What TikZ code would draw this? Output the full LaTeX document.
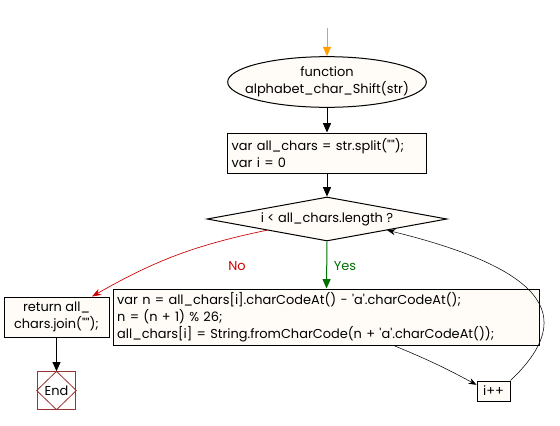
\documentclass[tikz,border=0pt]{standalone}
\usepackage{fontspec}
\setmainfont{Poppins}
\usetikzlibrary{shapes.geometric,arrows.meta}
\definecolor{boxfill}{HTML}{FFFCF8}
\definecolor{nocol}{HTML}{CC0000}
\definecolor{yescol}{HTML}{007000}
\definecolor{endcol}{HTML}{993333}
\definecolor{startcol}{HTML}{FFA000}
\newcommand{\sq}{\textquotesingle}
\newcommand{\dq}{\textquotedbl}

\begin{document}
\begin{tikzpicture}[x=0.75pt, y=-0.75pt,
  font=\fontsize{9.7}{12.75}\selectfont,
  box/.style={draw, fill=boxfill, line width=0.75pt, inner xsep=3pt, inner ysep=0pt},
  flow/.style={-{Triangle[length=7pt,width=6pt]}, line width=0.75pt},
  loopflow/.style={-{Stealth[length=6pt,width=4.5pt]}, line width=0.4pt}]
  \useasboundingbox (0,0) rectangle (560,425);

  % start and function header
  \coordinate (start) at (327,28);
  \node[box, ellipse, minimum width=149pt, minimum height=38pt, inner sep=0pt] (func) at (327,82) {};
  \node[align=center] (functext) at (327,82) {function\\alphabet\_char\_Shift(str)};

  % setup
  \node[box, text width=143pt, minimum height=30pt, align=left] (init) at (327,153)
    {var all\_chars = str.split(\dq\dq);\\var i = 0};

  % loop test
  \node[box, diamond, aspect=5.4, minimum width=180pt, minimum height=33pt, inner sep=0pt] (cond) at (327,219) {};
  \node (condtext) at (327,219) {i < all\_chars.length ?};

  % loop body
  \node[box, text width=314pt, minimum height=42pt, align=left] (body) at (326.5,317)
    {var n = all\_chars[i].charCodeAt() - \sq a\sq.charCodeAt();\\
     n = (n + 1) \% 26;\\
     all\_chars[i] = String.fromCharCode(n + \sq a\sq.charCodeAt());};
  \node[box, minimum width=24.75pt, minimum height=15pt] (inc) at (493.5,391) {i++};

  % exit
  \node[box, minimum width=78.75pt, minimum height=30pt, align=center] (ret) at (56.5,317)
    {return all\_\\chars.join(\dq\dq);};
  \node[box, draw=endcol, fill=white, minimum width=29pt, minimum height=28pt] (stop) at (56.5,390.5) {};
  \draw[endcol, line width=0.6pt] (stop.north) -- (stop.east) -- (stop.south) -- (stop.west) -- cycle;
  \node (stoptext) at (stop) {End};

  % connectors
  \draw[flow, startcol] (start) -- (func);
  \draw[flow] (func) -- (init);
  \draw[flow] (init) -- (cond);
  \draw[flow, yescol] (cond.south) -- (body.north);
  \node[yescol] (yes) at (345,266) {Yes};
  \draw[-{Stealth[length=7pt,width=5pt]}, nocol, line width=0.5pt] (cond.south west) to[bend right=9] (ret.30);
  \node[nocol] (no) at (237,266) {No};
  \draw[loopflow] (body.-23) to[bend left=3] (inc.160);
  \draw[loopflow] (inc.north east) .. controls (572,322) and (558,272) .. (cond.south east);
  \draw[flow] (ret) -- (stop);
\end{tikzpicture}
\end{document}
